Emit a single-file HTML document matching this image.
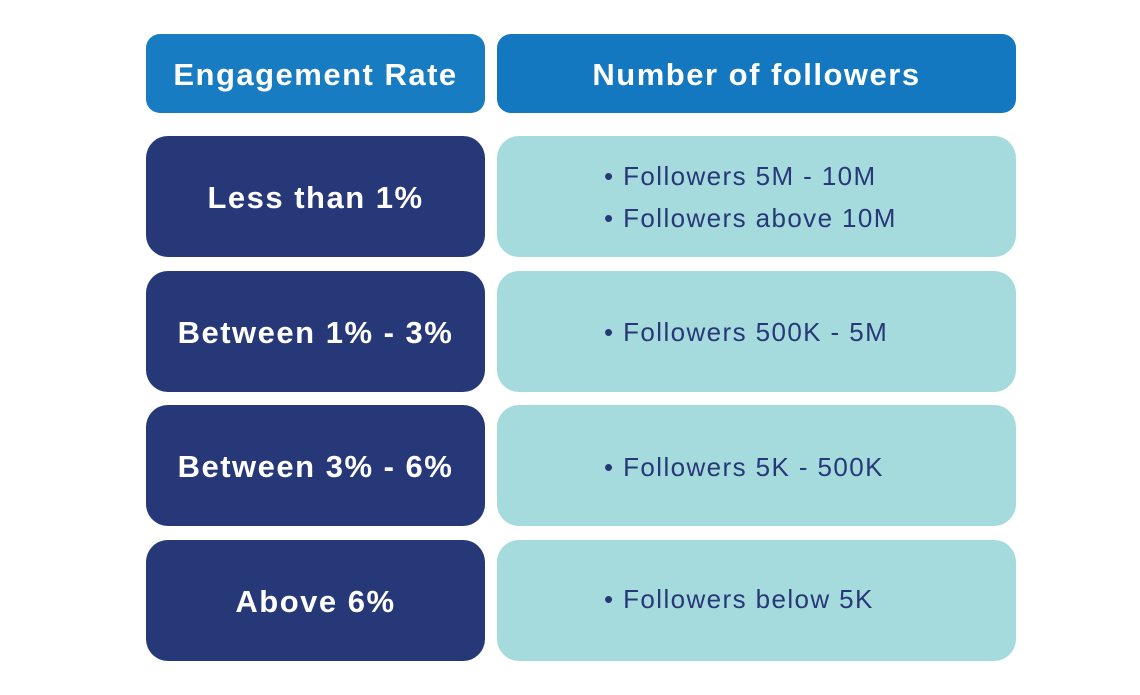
<!DOCTYPE html>
<html><head><meta charset="utf-8"><style>
body{margin:0;width:1140px;height:695px;background:#fff;position:relative;overflow:hidden;font-family:"Liberation Sans",sans-serif}
.b{position:absolute;box-sizing:border-box}
.h{background:#177cc2;border-radius:14px;top:34px;height:79px;color:#fff;font-weight:bold;font-size:31px;letter-spacing:1.5px;display:flex;align-items:center;justify-content:center;padding-top:2px}
.l{left:146px;width:339px;height:121px;background:#273878;border-radius:22px;color:#fff;font-weight:bold;font-size:31px;letter-spacing:1.5px;display:flex;align-items:center;justify-content:center;padding-top:2px}
.r{left:497px;width:519px;height:121px;background:#a6dbdd;border-radius:22px;color:#273878;font-size:26px;letter-spacing:1.4px}
.t{position:absolute;left:107px;white-space:nowrap}
</style></head><body>
<div class="b h" style="left:146px;width:339px">Engagement Rate</div>
<div class="b h" style="left:497px;width:519px;background:#1378c0">Number of followers</div>

<div class="b l" style="top:136px">Less than 1%</div>
<div class="b r" style="top:136px"><span class="t" style="top:25px">• Followers 5M - 10M</span><span class="t" style="top:67px">• Followers above 10M</span></div>

<div class="b l" style="top:271px">Between 1% - 3%</div>
<div class="b r" style="top:271px"><span class="t" style="top:46px">• Followers 500K - 5M</span></div>

<div class="b l" style="top:405px">Between 3% - 6%</div>
<div class="b r" style="top:405px"><span class="t" style="top:47px">• Followers 5K - 500K</span></div>

<div class="b l" style="top:540px">Above 6%</div>
<div class="b r" style="top:540px"><span class="t" style="top:44px">• Followers below 5K</span></div>
</body></html>
